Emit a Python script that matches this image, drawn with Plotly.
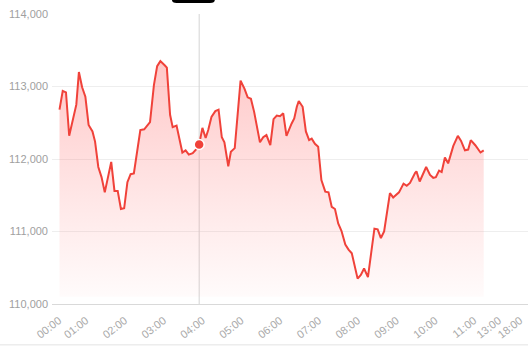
import plotly.graph_objects as go

# minutes since 00:00 for each sample, and price values
time_min = [19, 24, 29, 34, 45, 49, 54, 59, 64, 70, 74, 79, 84, 89, 99, 104, 109, 114, 119, 124,
            129, 134, 144, 150, 159, 165, 170, 175, 182, 185, 190, 194, 200, 209, 214, 219, 225, 231, 235, 240,
            245, 249, 254, 260, 265, 270, 274, 280, 284, 290, 299, 305, 310, 315, 320, 329, 334, 339, 345, 350,
            355, 360, 365, 370, 378, 382, 386, 389, 395, 400, 405, 409, 414, 419, 424, 430, 435, 440, 445, 450,
            455, 461, 466, 471, 480, 485, 490, 496, 506, 511, 516, 521, 530, 535, 544, 551, 556, 561, 569, 571,
            576, 586, 592, 597, 601, 606, 610, 615, 620, 628, 635, 640, 646, 651, 655, 662, 670, 675]
price = [112680, 112940, 112920, 112320, 112750, 113200, 112990, 112860, 112470, 112380,
         112240, 111890, 111750, 111540, 111960, 111560, 111560, 111310, 111320, 111680,
         111790, 111800, 112400, 112410, 112510, 113020, 113280, 113350, 113290, 113260,
         112610, 112440, 112460, 112090, 112120, 112060, 112080, 112140, 112200, 112430,
         112290, 112400, 112580, 112660, 112680, 112300, 112230, 111900, 112100, 112150,
         113080, 112970, 112850, 112830, 112650, 112230, 112300, 112330, 112190, 112550,
         112600, 112590, 112630, 112320, 112490, 112560, 112720, 112800, 112720, 112380,
         112260, 112280, 112210, 112170, 111710, 111550, 111540, 111340, 111310, 111110,
         111010, 110820, 110750, 110700, 110350, 110400, 110490, 110370, 111040, 111030,
         110910, 111000, 111530, 111470, 111540, 111660, 111630, 111670, 111810, 111830,
         111690, 111890, 111780, 111740, 111750, 111840, 111820, 112020, 111940, 112180,
         112320, 112250, 112120, 112130, 112260, 112190, 112090, 112120]

tick_vals = [18, 60, 120, 180, 240, 300, 360, 420, 480, 540, 600, 660, 698, 731]
tick_text = ["00:00", "01:00", "02:00", "03:00", "04:00", "05:00", "06:00", "07:00",
             "08:00", "09:00", "10:00", "11:00", "13:00", "18:00"]
y_ticks = [110000, 111000, 112000, 113000, 114000]
y_tick_text = ["110,000", "111,000", "112,000", "113,000", "114,000"]

fill_base = 110100
hover_index = 38

RED = "#f0423a"

fig = go.Figure()
# crosshair (drawn first so the point sits on top)
fig.add_trace(go.Scatter(x=[time_min[hover_index], time_min[hover_index]], y=[110000, 114000],
                         mode="lines", line=dict(color="#d5d5d5", width=1),
                         hoverinfo="skip", showlegend=False))
fig.add_trace(go.Scatter(x=[time_min[0], time_min[-1]], y=[fill_base, fill_base],
                         mode="lines", line=dict(width=0), hoverinfo="skip", showlegend=False))
fig.add_trace(go.Scatter(
    x=time_min, y=price, mode="lines", line=dict(color=RED, width=2),
    fill="tonexty",
    fillgradient=dict(type="vertical",
                      colorscale=[[0, "rgba(255,120,120,0.03)"], [1, "rgba(255,110,110,0.38)"]]),
    showlegend=False))
fig.add_trace(go.Scatter(x=[time_min[hover_index]], y=[price[hover_index]], mode="markers",
                         marker=dict(color=RED, size=10, line=dict(color="white", width=1.5)),
                         showlegend=False))

# tooltip peeking at top
fig.add_shape(type="path", xref="paper", yref="paper",
              path="M 0.252 1.12 L 0.252 1.048 Q 0.252 1.038 0.262 1.038 L 0.332 1.038 Q 0.342 1.038 0.342 1.048 L 0.342 1.12 Z",
              fillcolor="black", line=dict(width=0), layer="above")
# bottom separator
fig.add_shape(type="line", xref="paper", yref="paper", x0=-0.12, x1=1.0, y0=-0.141, y1=-0.141,
              line=dict(color="#e3e3e3", width=1))

fig.update_layout(
    width=528, height=353, margin=dict(l=52, r=0, t=14, b=49),
    paper_bgcolor="white", plot_bgcolor="white",
    font=dict(family="Liberation Sans, Arial, sans-serif", size=11, color="#a0a0a0"),
    xaxis=dict(range=[7.4, 743.5], tickvals=tick_vals, ticktext=tick_text, tickangle=-38,
               showgrid=False, zeroline=False, showline=True, linecolor="#d9d9d9", linewidth=1,
               ticks="", ticklabelstandoff=5, tickfont=dict(size=11, color="#aaaaaa")),
    yaxis=dict(range=[110000, 114000], tickvals=y_ticks, ticktext=y_tick_text,
               showgrid=True, gridcolor="#eeeeee", gridwidth=1, zeroline=False,
               ticks="", ticklabelstandoff=3, tickfont=dict(size=11, color="#a0a0a0")),
)

fig.write_html("out.html")
